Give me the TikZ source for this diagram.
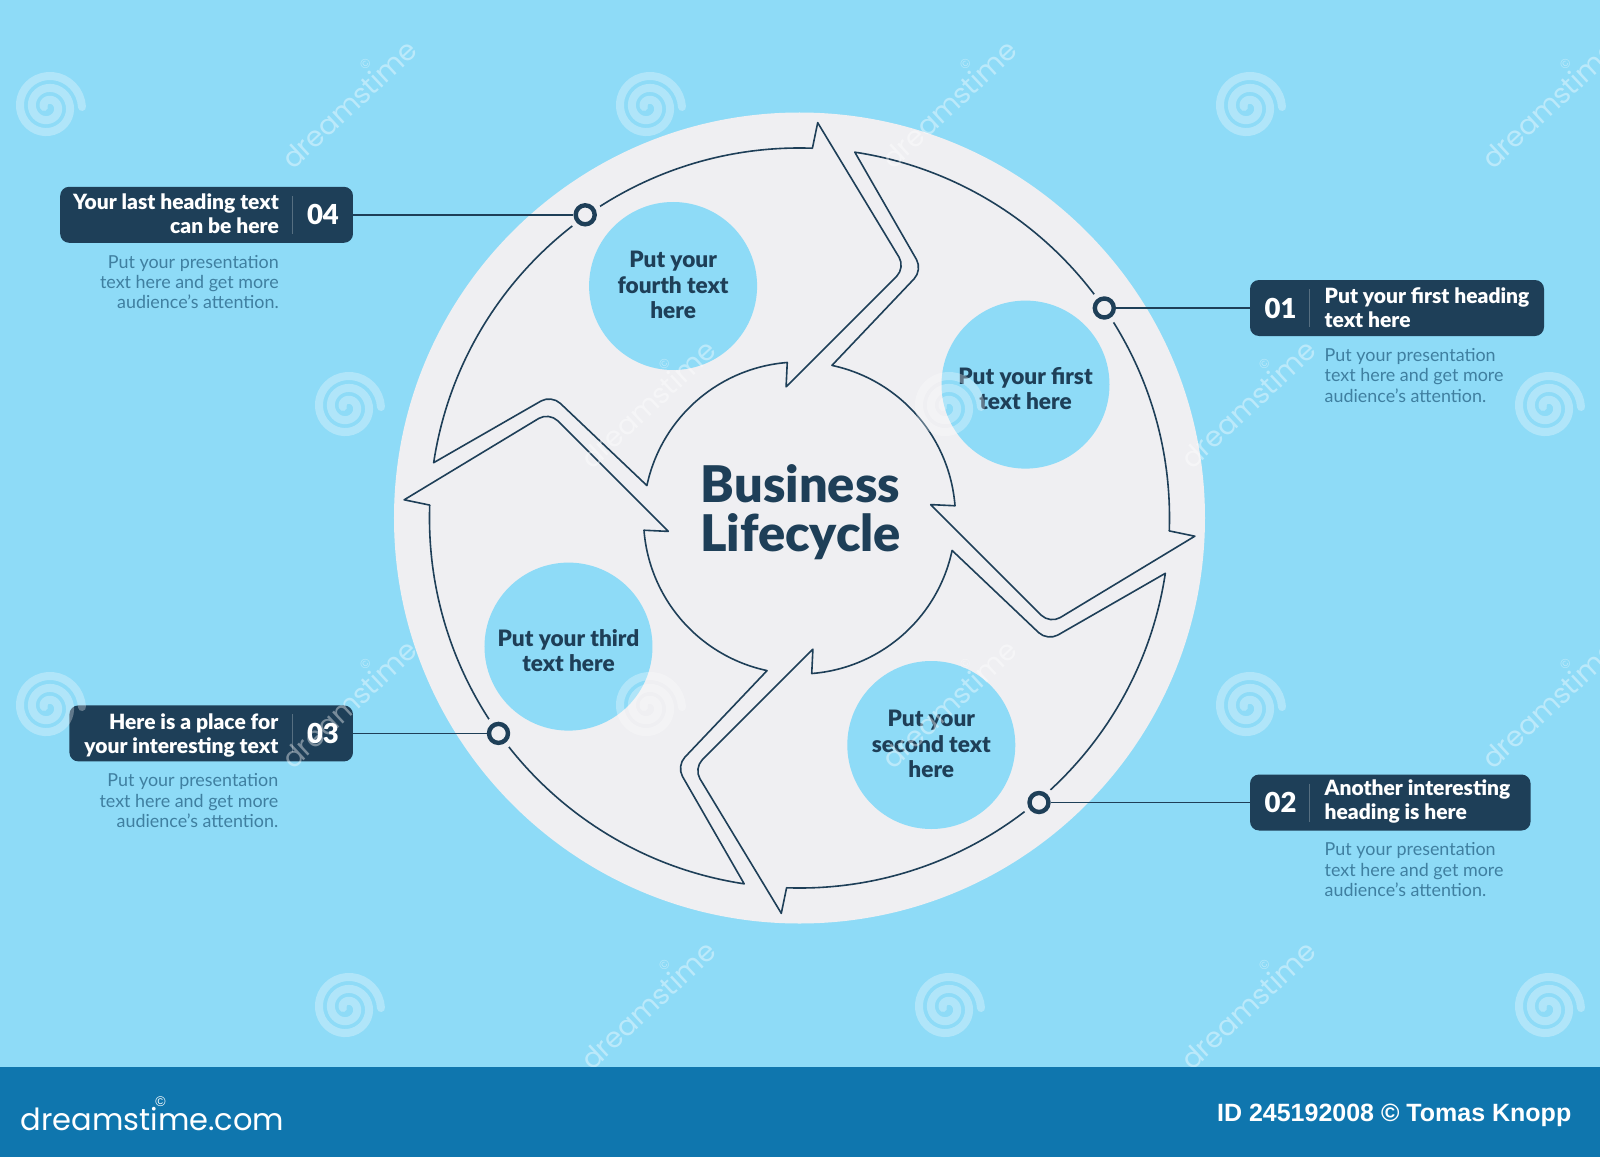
\documentclass[tikz,border=0pt]{standalone}
\usepackage{fontspec}
\setmainfont{Lato}
\newfontfamily\heavyface{Lato Black}
\newfontfamily\footface{Liberation Sans}
\newfontfamily\markface{Poppins}
\definecolor{skyback}{HTML}{8EDBF7}
\definecolor{paleround}{HTML}{EFEFF2}
\definecolor{navyink}{HTML}{1E3F58}
\definecolor{bodyink}{HTML}{3F7FA0}
\definecolor{footband}{HTML}{0F76AE}
\tikzset{
  flowline/.style={draw=navyink,line width=1.6pt,line join=round},
  ringhalo/.style={circle,fill=paleround,minimum size=34pt,inner sep=0pt},
  ringdot/.style={circle,draw=navyink,fill=paleround,line width=4.4pt,minimum size=19pt,inner sep=0pt},
  leadline/.style={draw=navyink,line width=1.6pt},
  splitline/.style={draw=white,opacity=.25,line width=1pt},
  barbox/.style={fill=navyink,rounded corners=9pt,minimum height=56pt,inner sep=0pt},
  headtext/.style={text=white,font=\heavyface\fontsize{21}{24.2}\selectfont,inner sep=0pt},
  numtext/.style={text=white,font=\heavyface\fontsize{27.5}{27.5}\selectfont,inner sep=0pt},
  bodytext/.style={text=bodyink,font=\fontsize{17.9}{20.4}\selectfont,inner sep=0pt},
  bubble/.style={circle,fill=skyback,minimum size=168pt,inner sep=0pt},
  bubtext/.style={align=center,text=navyink,inner sep=0pt,font=\heavyface\fontsize{22.6}{25.5}\selectfont},
  swirl/.style={draw=white,opacity=.3,line width=8pt,line cap=round},
  marktext/.style={text=white,opacity=.4,font=\markface\fontsize{28}{28}\selectfont,inner sep=0pt},
}
\begin{document}
\begin{tikzpicture}[x=1pt,y=1pt]
\useasboundingbox (-799.5,-639) rectangle (800.5,518);
\clip (-799.5,-639) rectangle (800.5,518);
\fill[skyback] (-799.5,-639) rectangle (800.5,518);
\fill[paleround] (0,0) circle (405.5);

\foreach \ang in {0,-90,-180,-270}
  \draw[flowline,rotate=\ang] (171.4:370) arc (171.4:88:370) -- (18.2,395.3)
    [rounded corners=12pt] -- (105.8,250.4) [sharp corners] -- (-13.4,131.2) -- (94.5:156)
    arc (94.5:168:156) [rounded corners=12pt] -- (-248,123) [sharp corners] -- cycle;

\node[bubble] (bub1) at (226,133.4) {};
\node[bubble] (bub2) at (131.8,-227) {};
\node[bubble] (bub3) at (-231,-128.6) {};
\node[bubble] (bub4) at (-126.4,232) {};

\node[bubtext] (txt1) at (226,129.6) {Put your first\\text here};
\node[bubtext] (txt2) at (131.8,-226) {Put your\\second text\\here};
\node[bubtext] (txt3) at (-231,-132.4) {Put your third\\text here};
\node[bubtext] (txt4) at (-126.4,233) {Put your\\fourth text\\here};

\node[text=navyink,font=\heavyface\fontsize{50.5}{49}\selectfont,align=center,inner sep=0pt] (title) at (1,6) {Business\\Lifecycle};

\node[ringhalo] (halo1) at (304.8,210) {};
\node[ringhalo] (halo2) at (239.5,-284.5) {};
\node[ringhalo] (halo3) at (-301,-215.4) {};
\node[ringhalo] (halo4) at (-214.3,303.2) {};

\node[barbox,minimum width=294pt] (bar1) at (597.5,210) {};
\node[barbox,minimum width=280.5pt] (bar2) at (590.8,-284.5) {};
\node[barbox,minimum width=283.6pt] (bar3) at (-588.3,-215.4) {};
\node[barbox,minimum width=292.8pt] (bar4) at (-592.9,303.2) {};

\node[ringdot] (dot1) at (304.8,210) {};
\node[ringdot] (dot2) at (239.5,-284.5) {};
\node[ringdot] (dot3) at (-301,-215.4) {};
\node[ringdot] (dot4) at (-214.3,303.2) {};

\draw[leadline] (bar1) -- (dot1);
\draw[leadline] (bar2) -- (dot2);
\draw[leadline] (bar3) -- (dot3);
\draw[leadline] (bar4) -- (dot4);

\draw[splitline] (509.5,229) -- (509.5,191);
\draw[splitline] (509.5,-265.5) -- (509.5,-303.5);
\draw[splitline] (-506.5,-196.4) -- (-506.5,-234.4);
\draw[splitline] (-506.5,322.2) -- (-506.5,284.2);

\node[numtext] (num1) at (481,210) {01};
\node[numtext] (num2) at (481,-284.5) {02};
\node[numtext] (num3) at (-476.5,-215.4) {03};
\node[numtext] (num4) at (-476.5,303.2) {04};

\node[headtext,anchor=west,align=left] (head1) at (525,210) {Put your first heading\\text here};
\node[headtext,anchor=west,align=left] (head2) at (525,-283.5) {Another interesting\\heading is here};
\node[headtext,anchor=east,align=right] (head3) at (-521,-217.4) {Here is a place for\\your interesting text};
\node[headtext,anchor=east,align=right] (head4) at (-520.5,304.2) {Your last heading text\\can be here};

\node[bodytext,anchor=north west,align=left] (body1) at (525,170) {Put your presentation\\text here and get more\\audience's attention.};
\node[bodytext,anchor=north west,align=left] (body2) at (525,-324.5) {Put your presentation\\text here and get more\\audience's attention.};
\node[bodytext,anchor=north east,align=right] (body3) at (-521,-255.4) {Put your presentation\\text here and get more\\audience's attention.};
\node[bodytext,anchor=north east,align=right] (body4) at (-520.5,263.2) {Put your presentation\\text here and get more\\audience's attention.};

\foreach \sx/\sy in {-751.5/411,-151.5/411,448.5/411,-452.5/111,147.5/111,747.5/111,-751.5/-189,-151.5/-189,448.5/-189,-452.5/-490,147.5/-490,747.5/-490}{
  \draw[swirl,shift={(\sx,\sy)}] plot[domain=0:900,samples=90] (\x:{34-\x/30});
  \begin{scope}[shift={(\sx+301,\sy+3)},rotate=43,transform shape]
    \node[marktext] (mark) at (0,0) {dreamstime};
    \node[marktext,font=\footface\fontsize{13}{13}\selectfont] (markc) at (39,18) {©};
  \end{scope}
}

\fill[footband] (-799.5,-639) rectangle (800.5,-549);
\node[text=white,font=\markface\fontsize{30.5}{30.5}\selectfont,anchor=west,inner sep=0pt] (brand) at (-779,-601) {dreamstime.com};
\node[text=white,font=\footface\fontsize{14}{14}\selectfont,inner sep=0pt] (brandc) at (-639,-584) {©};
\node[text=white,font=\footface\bfseries\fontsize{25}{25}\selectfont,anchor=east,inner sep=0pt] (credit) at (772,-597) {ID 245192008 © Tomas Knopp};
\end{tikzpicture}
\end{document}
